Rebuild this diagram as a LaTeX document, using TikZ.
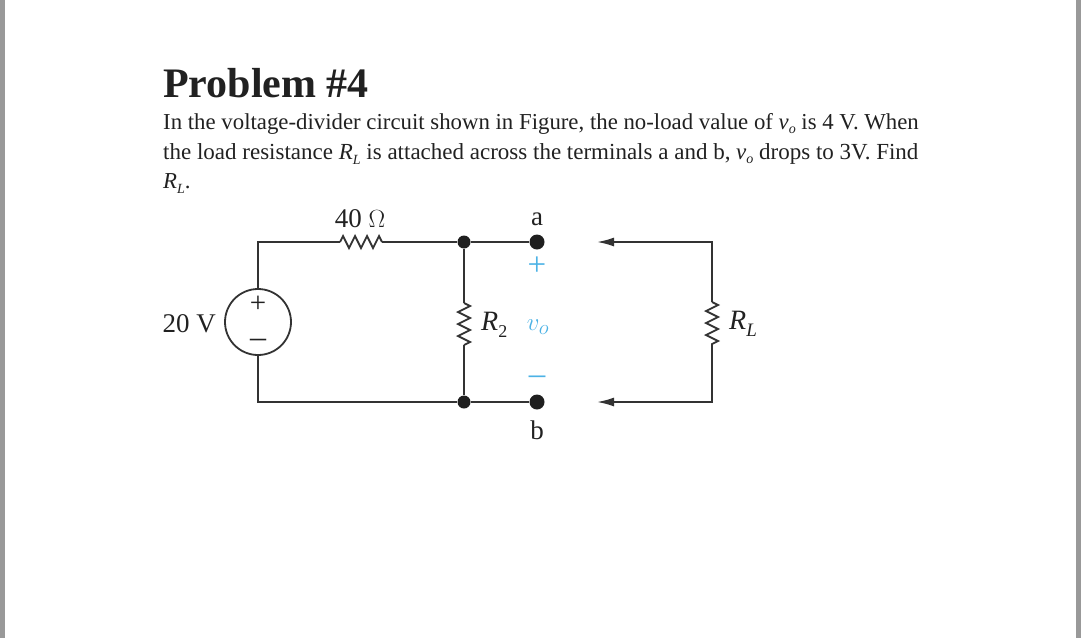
\documentclass[tikz,border=0pt]{standalone}
\usepackage{amsmath, amssymb}
\usepackage{fontspec}
\setmainfont{Liberation Serif}
\usetikzlibrary{arrows.meta,decorations.pathmorphing}
\newcommand{\sizedtext}[1]{\fontsize{#1}{#1}\selectfont}
\newcommand{\loadsub}{\textit{R}\raisebox{-0.25em}{\sizedtext{14}\textit{L}}}
\newcommand{\voutsub}{\textit{v}\raisebox{-0.2em}{\sizedtext{14}\textit{o}}}
\tikzset{
  txtline/.style={anchor=base west,inner sep=0pt,text=ctxt,font=\sizedtext{22.8}},
  lbl/.style={inner sep=0pt,text=ctxt,font=\sizedtext{27}},
  bluelbl/.style={inner sep=0pt,text=cblue,font=\sizedtext{33}},
  wire/.style={draw=cwire,line width=1.8pt},
  res/.style={wire,decorate,decoration={zigzag,segment length=12pt,amplitude=6pt}},
  bigdot/.style={circle,fill=cdot,inner sep=0pt,minimum size=15pt},
  smalldot/.style={circle,fill=cdot,inner sep=0pt,minimum size=13pt},
}
\begin{document}
\begin{tikzpicture}[x=1pt,y=-1pt]
\definecolor{ctxt}{rgb}{0.13,0.13,0.13}
\definecolor{cwire}{rgb}{0.2,0.2,0.2}
\definecolor{cdot}{rgb}{0.12,0.12,0.12}
\definecolor{cblue}{rgb}{0.3,0.7,0.9}
\definecolor{cbar}{rgb}{0.6,0.6,0.6}
\useasboundingbox (0,0) rectangle (1081,638);
\fill[cbar] (0,0) rectangle (5,638);
\fill[cbar] (1076,0) rectangle (1081,638);
%
\node[txtline,font=\sizedtext{42}\bfseries] (title) at (163,97) {Problem \#4};
\node[txtline] (line1) at (163,129) {In the voltage-divider circuit shown in Figure, the no-load value of \voutsub\ is 4 V. When};
\node[txtline,font=\sizedtext{23}] (line2) at (163,159) {the load resistance \loadsub\ is attached across the terminals a and b, \voutsub\ drops to 3V. Find};
\node[txtline] (line3) at (163,188) {\loadsub.};
%
\coordinate (tl) at (258,242);
\coordinate (bl) at (258,402);
\coordinate (r1a) at (340,242);
\coordinate (r1b) at (382,242);
\coordinate (r2a) at (464,303);
\coordinate (r2b) at (464,345);
\coordinate (rla) at (712,302);
\coordinate (rlb) at (712,345);
\coordinate (tr) at (712,242);
\coordinate (br) at (712,402);
\coordinate (tipa) at (597,242);
\coordinate (tipb) at (597,402);
%
\node[smalldot] (j1) at (464,242) {};
\node[smalldot] (j2) at (464,402) {};
\node[bigdot] (ta) at (537,242) {};
\node[bigdot] (tb) at (537,402) {};
\node[circle,draw=cwire,line width=1.8pt,fill=white,inner sep=0pt,minimum size=66pt] (src) at (258,322) {};
%
\draw[wire] (src) -- (tl) -- (r1a);
\draw[res] (r1a) -- (r1b);
\draw[wire] (r1b) -- (j1);
\draw[wire] (j1) -- (ta);
\draw[wire] (src) -- (bl) -- (j2);
\draw[wire] (j2) -- (tb);
\draw[wire] (j1) -- (r2a);
\draw[res] (r2a) -- (r2b);
\draw[wire] (r2b) -- (j2);
\draw[wire,-{Latex[length=17pt,width=9pt]}] (rla) -- (tr) -- (tipa);
\draw[res] (rla) -- (rlb);
\draw[wire,-{Latex[length=17pt,width=9pt]}] (rlb) -- (br) -- (tipb);
%
\node[lbl,font=\sizedtext{29}] (plus) at (258,304) {+};
\node[lbl,font=\sizedtext{32}] (minus) at (258,343) {\textendash};
\node[lbl,anchor=east] (vs) at (216,324) {20 V};
\node[lbl] (r1lbl) at (360,219) {40 $\Omega$};
\node[lbl] (albl) at (537,219) {a};
\node[lbl] (blbl) at (537,430) {b};
\node[lbl,anchor=west,font=\sizedtext{28}] (r2lbl) at (481,325) {\textit{R}\raisebox{-0.25em}{\sizedtext{18}2}};
\node[lbl,anchor=west,font=\sizedtext{28}] (rllbl) at (729,324) {\textit{R}\raisebox{-0.25em}{\sizedtext{19}\textit{L}}};
\node[bluelbl] (vplus) at (537,266) {+};
\node[bluelbl,font=\sizedtext{30}] (vo) at (538,327) {$v_o$};
\node[bluelbl] (vminus) at (537,380) {\textendash};
%
\end{tikzpicture}
\end{document}
